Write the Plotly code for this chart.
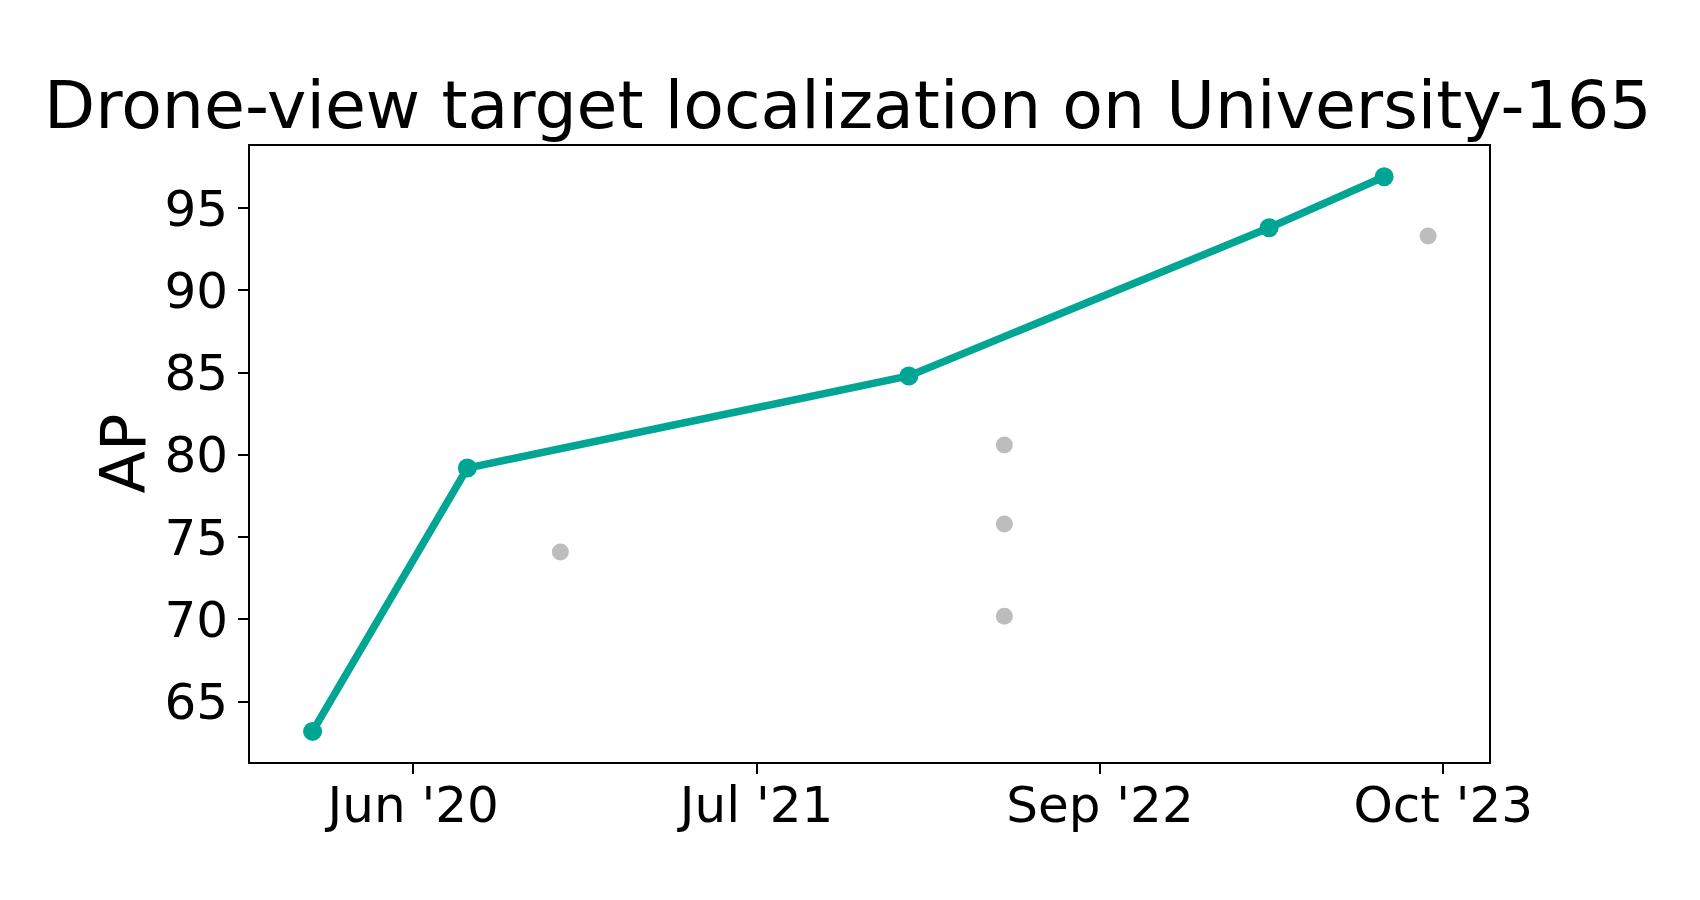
import plotly.graph_objects as go

# Data
sota_dates = ["2020-02-22", "2020-08-23", "2022-01-27", "2023-03-29", "2023-08-12"]
sota_ap = [63.2, 79.2, 84.8, 93.8, 96.9]

other_dates = ["2020-12-11", "2022-05-20", "2022-05-20", "2022-05-20", "2023-10-03"]
other_ap = [74.1, 80.6, 75.8, 70.2, 93.3]

tick_dates = ["2020-06-20", "2021-07-31", "2022-09-10", "2023-10-21"]
tick_labels = ["Jun '20", "Jul '21", "Sep '22", "Oct '23"]
y_ticks = [65, 70, 75, 80, 85, 90, 95]

TEAL = "#00A693"
GRAY = "#BDBDBD"
FONT = "DejaVu Sans"

fig = go.Figure()
fig.add_trace(go.Scatter(
    x=other_dates, y=other_ap, mode="markers",
    marker=dict(color=GRAY, size=17, line=dict(width=0)),
    showlegend=False, hoverinfo="x+y",
))
fig.add_trace(go.Scatter(
    x=sota_dates, y=sota_ap, mode="lines+markers",
    line=dict(color=TEAL, width=7.5),
    marker=dict(color=TEAL, size=19, line=dict(width=0)),
    showlegend=False, hoverinfo="x+y",
))

fig.update_layout(
    width=1700, height=900,
    margin=dict(l=242, r=219, t=138, b=146),
    paper_bgcolor="white", plot_bgcolor="white",
    font=dict(family=FONT, color="black"),
    title=dict(
        text="Drone-view target localization on University-165",
        font=dict(family=FONT, size=66.5, color="black"),
        x=0.494, xanchor="center", xref="container",
        y=1 - 97 / 900, yanchor="middle", yref="container",
    ),
    xaxis=dict(
        type="date",
        range=["2019-12-10", "2023-12-14"],
        tickvals=tick_dates, ticktext=tick_labels,
        tickfont=dict(family=FONT, size=50, color="black"),
        ticks="outside", ticklen=10, tickwidth=2, tickcolor="black",
        ticklabelstandoff=-12,
        showgrid=False, zeroline=False,
        showline=True, linecolor="black", linewidth=2, mirror=True,
    ),
    yaxis=dict(
        range=[61.34, 98.77],
        tickvals=y_ticks,
        tickfont=dict(family=FONT, size=50, color="black"),
        ticks="outside", ticklen=10, tickwidth=2, tickcolor="black",
        showgrid=False, zeroline=False,
        showline=True, linecolor="black", linewidth=2, mirror=True,
    ),
    annotations=[dict(
        text="AP", textangle=-90, showarrow=False,
        xref="paper", yref="paper", x=-0.1029, y=0.5,
        xanchor="center", yanchor="middle",
        font=dict(family=FONT, size=62, color="black"),
    )],
)

fig.write_html("out.html")
